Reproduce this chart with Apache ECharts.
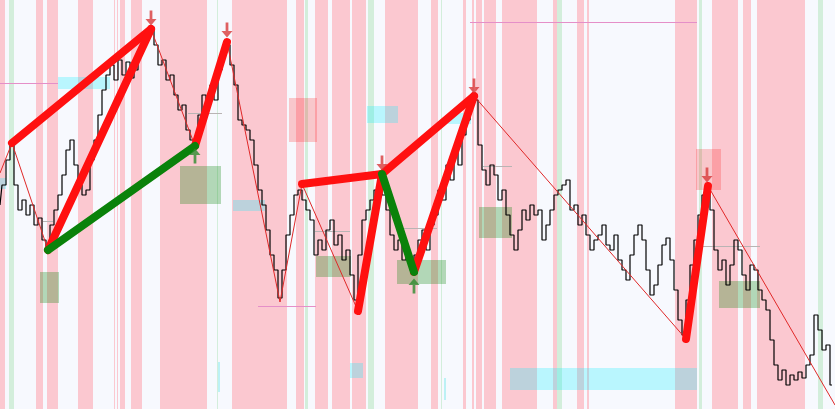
<!DOCTYPE html>
<html><head><meta charset="utf-8">
<script src="https://cdn.jsdelivr.net/npm/echarts@6/dist/echarts.min.js"></script>
<style>html,body{margin:0;padding:0;background:#f7f9fe}#c{width:835px;height:409px}</style>
</head><body><div id="c"></div>
<script>
// price level readings (screen-level units, axis inverted), one every 4 time units
const priceStep = 4;
const price = [205,185,160,143,185,210,200,215,205,225,218,240,248,225,210,195,175,150,140,165,
185,195,190,160,140,115,90,75,65,80,60,75,62,78,70,55,45,38,30,45,
65,60,80,75,95,110,105,130,140,145,115,95,105,85,100,70,55,45,65,85,
120,125,130,140,165,190,205,230,255,270,298,270,235,215,195,190,200,210,220,255,
240,250,230,220,245,235,260,250,275,300,255,220,210,200,190,178,195,210,235,250,
240,260,255,270,255,240,230,250,225,215,190,200,165,180,150,165,135,120,105,100,
145,170,185,165,175,200,190,215,235,250,230,210,220,205,215,210,240,225,210,195,
190,185,180,210,205,225,215,235,250,240,235,225,245,250,235,260,270,280,255,235,
225,240,270,295,285,265,245,238,260,290,320,335,300,265,240,215,195,190,210,250,
270,260,285,265,240,250,275,290,265,270,290,300,310,340,365,380,370,385,375,380,
372,378,365,355,315,330,350,345,385];
const pinkBands = [[0,5],[36,43],[47,58],[78,93],[114,115],[117,118],[120,125],[131,142],[160,207],[232,287],[296,304],[315,328],[332,350],[352,366],[385,418],[431,438],[463,466],[472,474],[476,482],[484,496],[502,537],[553,557],[577,584],[587,589],[675,697],[712,738],[743,751],[757,805]];
const greenBands = [[9,14],[217,218],[305,308],[368,374],[441,442],[557,562],[699,702],[818,823]];
const cyanZones = [[58,77,110,89],[0,178,6,189],[233,200,265,211],[367,106,398,123],[448,113,471,124],[350,363,363,378],[510,368,697,390]];
const greenZones = [[180,166,221,204],[40,272,59,303],[316,256,351,277],[397,260,446,284],[479,207,512,238],[719,281,760,308]];
const redZones = [[289,98,317,142],[696,149,721,190]];
const pinkLevels = [[0,58,83],[470,697,22],[258,316,306]];
const grayLevels = [[188,222,113],[483,512,166],[315,350,231],[403,437,228],[703,760,246],[43,53,221]];
const cyanTicks = [[219,362,392],[445,378,400]];
const pivots = [[0,173],[12,143],[48,250],[151,29],[195,146],[227,42],[280,302],[302,184],[358,311],[382,174],[414,272],[474,96],[686,339],[708,186],[835,405]];
const redLegs = [[[12,143],[151,29]],[[48,250],[151,29]],[[195,146],[227,42]],[[302,184],[382,174]],[[382,174],[474,96]],[[358,311],[382,174]],[[414,272],[474,96]],[[686,339],[708,186]]];
const greenLegs = [[[48,250],[195,146]],[[382,174],[414,272]]];
const downArrows = [[151,18],[227,30],[382,163],[474,86],[707,175]];
const upArrows = [[195,156],[414,286]];

const downPath = 'path://M4.5,0 L7.5,0 L7.5,8 L12,8 L6,14 L0,8 L4.5,8 Z';
const upPath = 'path://M4.5,14 L7.5,14 L7.5,6 L12,6 L6,0 L0,6 L4.5,6 Z';

const chart = echarts.init(document.getElementById('c'), null, {renderer:'canvas'});
const rect = (r, color) => [{coord:[r[0], r[1]], itemStyle:{color}}, {coord:[r[2], r[3]]}];
chart.setOption({
  animation:false,
  backgroundColor:'#f7f9fe',
  grid:{left:0,right:0,top:0,bottom:0},
  xAxis:{type:'value',min:0,max:835,show:false},
  yAxis:{type:'value',min:0,max:409,inverse:true,show:false},
  series:[
    {type:'line',data:[],silent:true,
     markArea:{silent:true,data:[
       ...pinkBands.map(b=>[{xAxis:b[0],itemStyle:{color:'#fbc8d0'}},{xAxis:b[1]}]),
       ...greenBands.map(b=>[{xAxis:b[0],itemStyle:{color:'#d3eedb'}},{xAxis:b[1]}])
     ]}},
    {type:'line',data:[],silent:true,z:3,
     markArea:{silent:true,data:[
       ...cyanZones.map(r=>rect(r,'rgba(0,240,255,0.25)')),
       ...greenZones.map(r=>rect(r,'rgba(0,128,0,0.28)')),
       ...redZones.map(r=>rect(r,'rgba(255,0,0,0.2)'))
     ]}},
    {type:'lines',coordinateSystem:'cartesian2d',silent:true,z:4,
     lineStyle:{color:'#e58fc8',width:1,opacity:1},
     data:pinkLevels.map(l=>({coords:[[l[0],l[2]],[l[1],l[2]]]}))},
    {type:'lines',coordinateSystem:'cartesian2d',silent:true,z:4,
     lineStyle:{color:'#b9b4b4',width:1,opacity:1},
     data:grayLevels.map(l=>({coords:[[l[0],l[2]],[l[1],l[2]]]}))},
    {type:'lines',coordinateSystem:'cartesian2d',silent:true,z:4,
     lineStyle:{color:'#a8eef2',width:1.5,opacity:1},
     data:cyanTicks.map(l=>({coords:[[l[0],l[1]],[l[0],l[2]]]}))},
    {type:'line',silent:true,z:5,symbol:'none',smooth:false,step:'middle',
     lineStyle:{color:'#000',width:1.2},
     data:price.map((v,i)=>[i*priceStep,v])},
    {type:'line',silent:true,z:6,symbol:'none',smooth:false,
     lineStyle:{color:'#e02828',width:1},
     data:pivots},
    {type:'lines',coordinateSystem:'cartesian2d',silent:true,z:7,
     lineStyle:{color:'#ff1010',width:8,opacity:1,cap:'round'},
     data:redLegs.map(s=>({coords:s}))},
    {type:'lines',coordinateSystem:'cartesian2d',silent:true,z:7,
     lineStyle:{color:'#0a820a',width:8,opacity:1,cap:'round'},
     data:greenLegs.map(s=>({coords:s}))},
    {type:'scatter',silent:true,z:8,symbol:downPath,symbolSize:[11,15],
     itemStyle:{color:'#d83a3a'},data:downArrows},
    {type:'scatter',silent:true,z:8,symbol:upPath,symbolSize:[11,15],
     itemStyle:{color:'#2e8b2e'},data:upArrows}
  ]
});
</script></body></html>
